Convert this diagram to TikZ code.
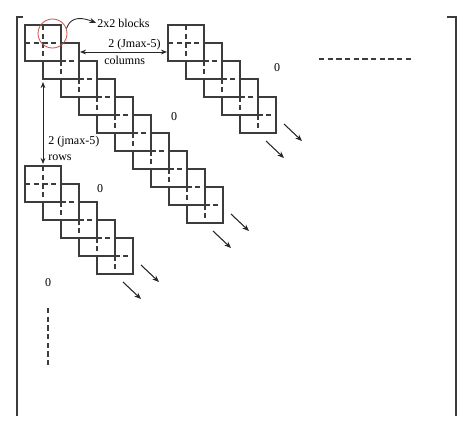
\documentclass[tikz,border=0pt]{standalone}
\usepackage{fontspec}
\setmainfont{Liberation Serif}
\usetikzlibrary{arrows.meta}
\definecolor{lineGray}{RGB}{60,60,60}
\definecolor{circRed}{RGB}{205,75,65}
\tikzset{
  solidline/.style={draw=lineGray, line width=0.85pt},
  dashline/.style={draw=lineGray, line width=0.85pt, dash pattern=on 4pt off 2.5pt},
  dimarrow/.style={draw=black!85, line width=0.65pt, {Stealth[length=4.5pt,width=3.5pt]}-{Stealth[length=4.5pt,width=3.5pt]}},
  diagarrow/.style={draw=black!85, line width=0.8pt, -{Stealth[length=5pt,width=4pt]}},
  lbl/.style={inner sep=0.75pt, font=\fontsize{9}{11}\selectfont},
}
\begin{document}
\begin{tikzpicture}[x=0.75pt,y=0.75pt,yscale=-1,xscale=1]
\path (0,0) rectangle (474,433); %set diagram size

%Shape: Brackets
\draw[solidline] (23,17) -- (17,17) -- (17,416) ;
\draw[solidline] (447,17) -- (456,17) -- (456,416) ;

%Shape: Chains of 2x2 blocks
\foreach \cx/\cy/\n/\c in {25/25/9/A, 168/25/4/B, 25/166/4/C} {
  \foreach \k in {0,...,\n} {
    \pgfmathsetmacro{\bx}{\cx+18*\k}
    \pgfmathsetmacro{\by}{\cy+18*\k}
    \draw[dashline] (\bx+18,\by) -- (\bx+18,\by+36) ;
    \draw[dashline] (\bx,\by+18) -- (\bx+36,\by+18) ;
    \draw[solidline] (\bx+18,\by) -- (\bx+36,\by) -- (\bx+36,\by+36) -- (\bx,\by+36) -- (\bx,\by+18) ;
  }
  \draw[solidline] (\cx+18,\cy) -- (\cx,\cy) -- (\cx,\cy+18) ;
  %Arrows after the last block
  \pgfmathsetmacro{\lx}{\cx+18*\n}
  \pgfmathsetmacro{\ly}{\cy+18*\n}
  \coordinate (\c-t1) at (\lx+44,\ly+27) ;
  \coordinate (\c-h1) at (\lx+62,\ly+44) ;
  \coordinate (\c-t2) at (\lx+26,\ly+44) ;
  \coordinate (\c-h2) at (\lx+44,\ly+61) ;
  \draw[diagarrow] (\c-t1) -- (\c-h1) ;
  \draw[diagarrow] (\c-t2) -- (\c-h2) ;
}

%Shape: Circle
\node[circle, draw=circRed, line width=0.6pt, minimum size=21.75pt, inner sep=0pt] (circ) at (52.5,33.5) {};

%Dashed continuation lines
\draw[dashline] (319,59) -- (414,59) ;
\draw[dashline] (48,308) -- (48,365) ;

% Text Node
\node[lbl, anchor=base west] (blocks) at (96,27) {2x2 blocks};
% Text Node
\node[lbl, anchor=base west] (jcol) at (107,47) {2 (Jmax-5)};
% Text Node
\node[lbl, anchor=base west] (columns) at (103,64) {columns};
% Text Node
\node[lbl, anchor=base west] (jrow) at (47,144) {2 (jmax-5)};
% Text Node
\node[lbl, anchor=base west] (rows) at (47,160) {rows};
% Text Node
\node[lbl] (zeroA) at (174,117) {0};
\node[lbl] (zeroB) at (277,68) {0};
\node[lbl] (zeroC) at (100,189) {0};
\node[lbl] (zeroD) at (48,283) {0};

%Arrows: labels
\draw[diagarrow, line width=0.65pt] (circ.20) .. controls (71,15) and (84,18) .. (blocks.west) ;
\coordinate (colL) at (80,52) ;
\coordinate (colR) at (167,52) ;
\draw[dimarrow] (colL) -- (colR) ;
\coordinate (rowT) at (43,82) ;
\coordinate (rowB) at (43,164) ;
\draw[dimarrow] (rowT) -- (rowB) ;

\end{tikzpicture}
\end{document}
